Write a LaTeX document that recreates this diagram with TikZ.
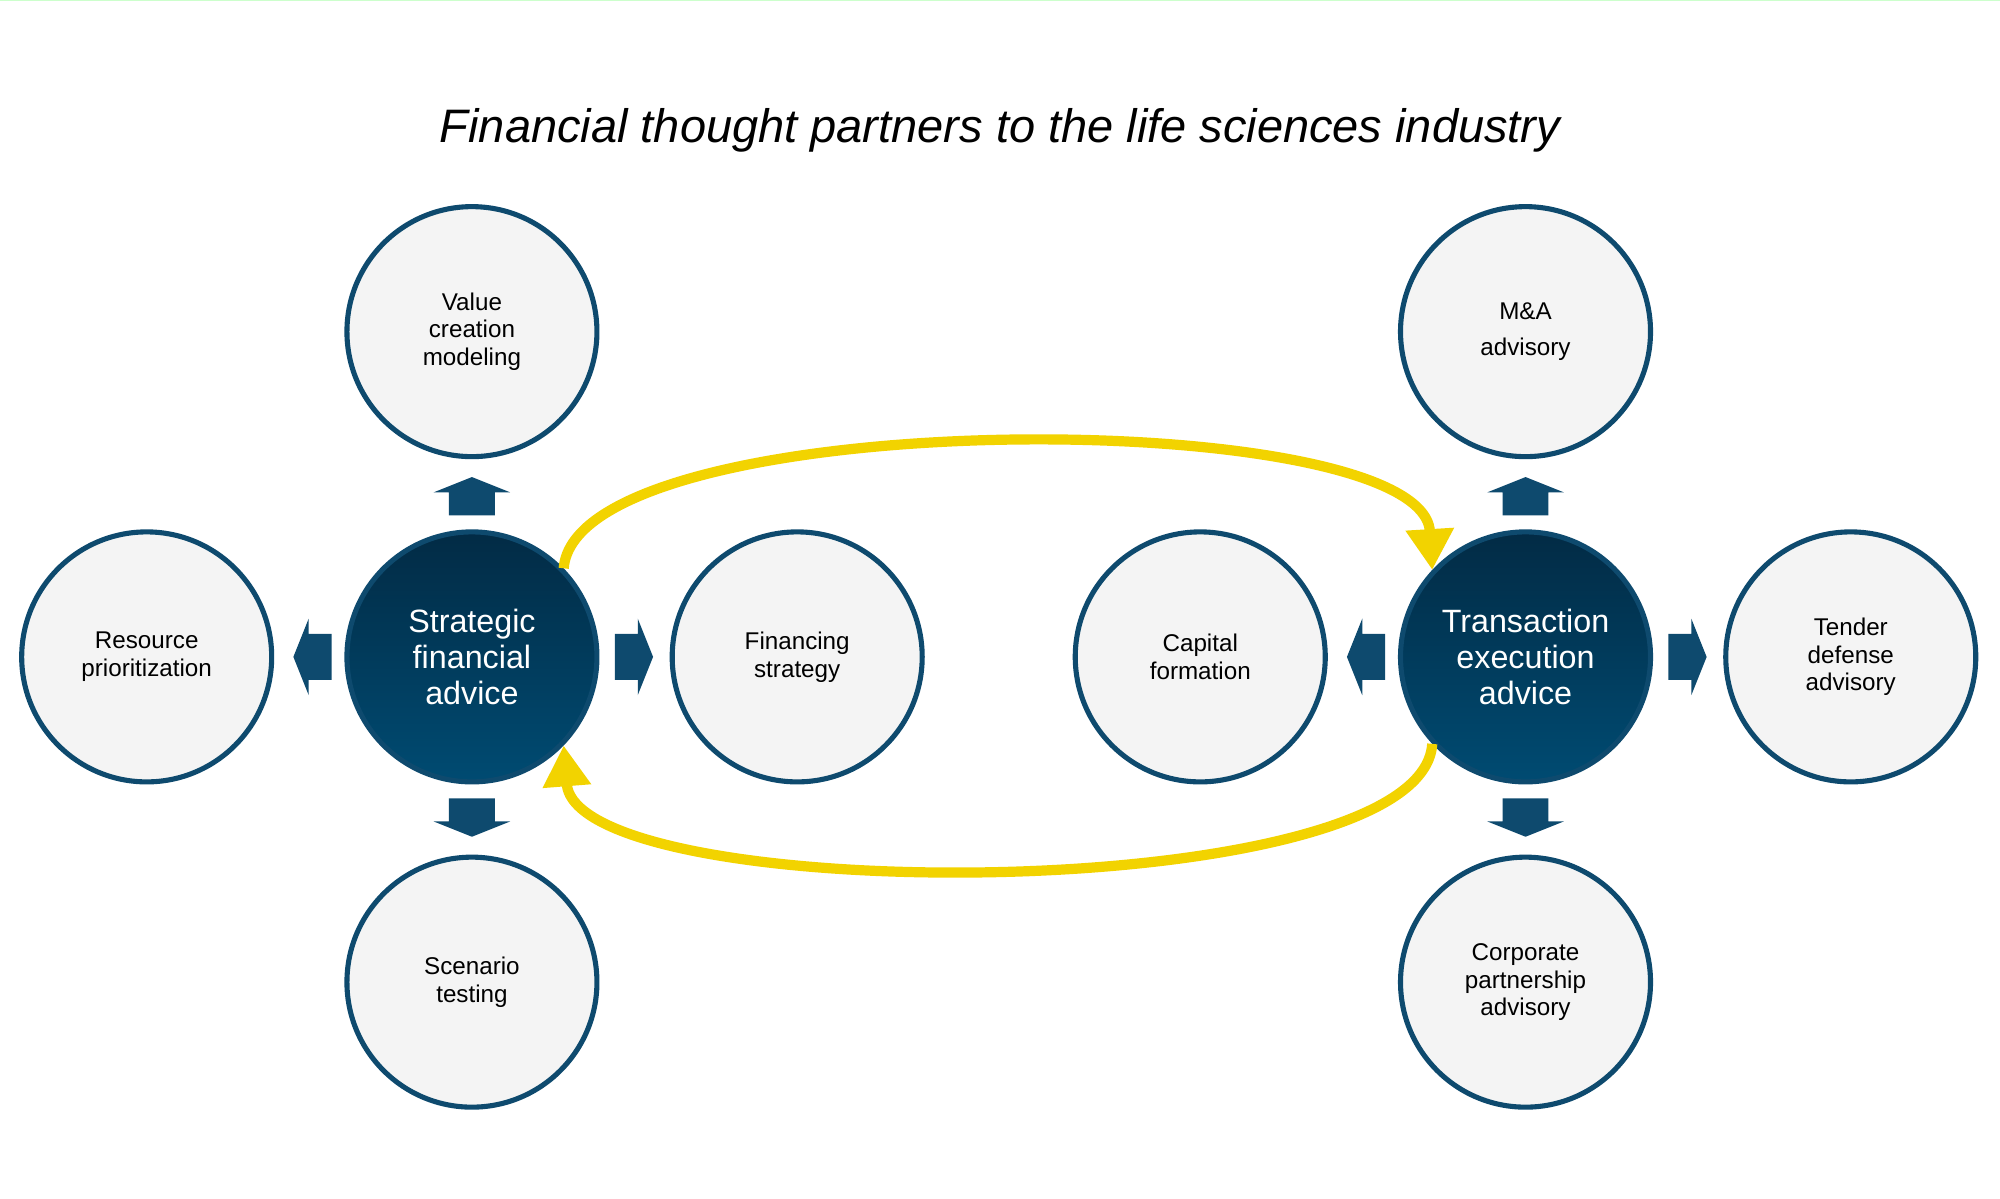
\documentclass[tikz,border=0pt]{standalone}
\usepackage{fontspec}
\setmainfont{Liberation Sans}
\usetikzlibrary{positioning,arrows.meta}

\definecolor{navy}{HTML}{0E4A6E}
\definecolor{navytop}{HTML}{022B45}
\definecolor{navybot}{HTML}{004B72}
\definecolor{paleg}{HTML}{F4F4F4}
\definecolor{gold}{HTML}{F2D300}

\tikzset{
  leaf/.style={circle, draw=navy, line width=1mm, fill=paleg, minimum size=49mm,
    align=center, font=\fontsize{13.5}{15.5}\selectfont, text=black},
  hub/.style={circle, draw=navy, line width=1mm, top color=navytop, bottom color=navybot,
    minimum size=49mm, align=center, font=\fontsize{18}{20}\selectfont, text=white},
  loop/.style={draw=gold, line width=2mm, -{Triangle[length=8mm,width=9mm]}},
  pics/blk/.style={code={
    \fill[navy] (-15,-18) -- (3,-18) -- (3,-30) -- (15,0) -- (3,30) -- (3,18)
      -- (-15,18) -- cycle;}}
}

\begin{document}
\begin{tikzpicture}[x=0.25mm,y=-0.25mm]

    % Frame
    \useasboundingbox (0,0) rectangle (1568,940);
    \draw[green!20, line width=0.3mm] (0,0.5) -- (1568,0.5);

    % Title
    \node (title) at (784,102) {\fontsize{26.2}{29}\selectfont\itshape Financial thought partners to the life sciences industry};

    % Hubs
    \node[hub] (strat) at (370,515) {Strategic\\financial\\advice};
    \node[hub] (trans) at (1196,515) {Transaction\\execution\\advice};

    % Left cluster
    \node[leaf] (value) at (370,260) {Value\\creation\\modeling};
    \node[leaf] (res)   at (115,515) {Resource\\prioritization};
    \node[leaf] (fin)   at (625,515) {Financing\\strategy};
    \node[leaf] (scen)  at (370,770) {Scenario\\testing};

    % Right cluster
    \node[leaf] (ma)    at (1196,260) {M\&A\\[1.5mm]advisory};
    \node[leaf] (cap)   at (941,515)  {Capital\\formation};
    \node[leaf] (tend)  at (1451,515) {Tender\\defense\\advisory};
    \node[leaf] (corp)  at (1196,770) {Corporate\\partnership\\advisory};

    % Block arrows
    \pic[rotate=90]  at (370,389)  {blk};
    \pic[rotate=-90] at (370,641)  {blk};
    \pic[rotate=180] at (245,515)  {blk};
    \pic             at (497,515)  {blk};
    \pic[rotate=90]  at (1196,389) {blk};
    \pic[rotate=-90] at (1196,641) {blk};
    \pic[rotate=180] at (1071,515) {blk};
    \pic             at (1323,515) {blk};

    % Loops
    \draw[loop] (strat.44) .. controls (452,316) and (1115,316) .. (trans.137);
    \draw[loop] (trans.-137) .. controls (1115,712) and (452,712) .. (strat.-44);

\end{tikzpicture}
\end{document}
